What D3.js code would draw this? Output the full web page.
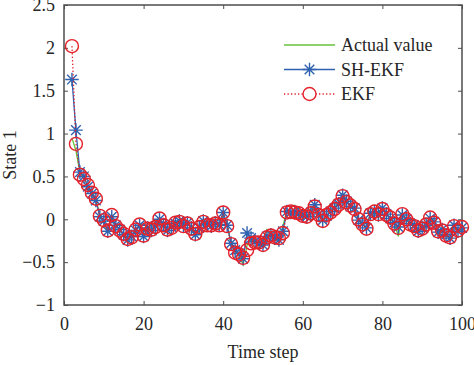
<!DOCTYPE html>
<html>
<head>
<meta charset="utf-8">
<script src="https://cdn.jsdelivr.net/npm/d3@7"></script>
<style>
  body { margin: 0; background: #fff; }
  svg text { font-family: "Liberation Serif", "Times New Roman", serif; fill: #262626; }
</style>
</head>
<body>
<div id="chart"></div>
<script>
// time steps shown on the x axis
const steps = d3.range(2, 101);

const actualValue = [
  0.95, 0.80, 0.55, 0.48, 0.39, 0.30, 0.23, 0.05, -0.03, -0.15,
  0.02, -0.08, -0.11, -0.19, -0.25, -0.19, -0.14, -0.06, -0.21, -0.09,
  -0.14, -0.07, -0.02, -0.05, -0.15, -0.08, -0.06, -0.01, -0.09, -0.03,
  -0.12, -0.20, -0.08, -0.03, -0.05, -0.09, -0.03, -0.07, 0.05, -0.05,
  -0.30, -0.38, -0.42, -0.53, -0.30, -0.24, -0.25, -0.29, -0.28, -0.12,
  -0.20, -0.23, -0.25, -0.08, 0.10, 0.07, 0.10, 0.05, 0.06, 0.02,
  0.09, 0.16, 0.07, -0.02, 0.03, 0.10, 0.14, 0.19, 0.26, 0.22,
  0.14, 0.14, -0.02, -0.04, -0.12, 0.08, 0.08, 0.04, 0.14, 0.07,
  0.00, -0.05, -0.20, 0.04, 0.01, -0.04, -0.08, -0.15, -0.09, -0.08,
  0.02, -0.02, -0.16, -0.11, -0.19, -0.23, -0.06, -0.15, -0.11
];

const shEkf = [
  1.63, 1.04, 0.55, 0.50, 0.38, 0.30, 0.22, 0.03, -0.02, -0.14,
  0.03, -0.07, -0.12, -0.18, -0.24, -0.20, -0.13, -0.07, -0.20, -0.10,
  -0.13, -0.08, 0.00, -0.06, -0.13, -0.09, -0.05, -0.02, -0.07, -0.04,
  -0.10, -0.18, -0.10, -0.02, -0.06, -0.08, -0.04, -0.06, 0.08, -0.07,
  -0.28, -0.36, -0.40, -0.46, -0.16, -0.22, -0.26, -0.28, -0.30, -0.20,
  -0.18, -0.22, -0.24, -0.14, 0.09, 0.08, 0.09, 0.06, 0.05, 0.03,
  0.08, 0.17, 0.06, -0.01, 0.04, 0.09, 0.13, 0.18, 0.28, 0.21,
  0.15, 0.13, -0.01, -0.05, -0.10, 0.07, 0.09, 0.05, 0.13, 0.06,
  0.01, -0.04, -0.09, 0.05, 0.00, -0.05, -0.07, -0.14, -0.10, -0.07,
  0.01, -0.03, -0.15, -0.12, -0.18, -0.22, -0.07, -0.14, -0.10
];

const ekf = [
  2.02, 0.88, 0.52, 0.47, 0.40, 0.31, 0.24, 0.04, -0.01, -0.13,
  0.05, -0.08, -0.13, -0.17, -0.23, -0.21, -0.12, -0.06, -0.19, -0.11,
  -0.12, -0.09, 0.01, -0.07, -0.12, -0.10, -0.04, -0.03, -0.08, -0.05,
  -0.11, -0.17, -0.09, -0.03, -0.07, -0.07, -0.05, -0.07, 0.08, -0.08,
  -0.29, -0.39, -0.41, -0.45, -0.36, -0.28, -0.27, -0.27, -0.30, -0.21,
  -0.19, -0.21, -0.22, -0.16, 0.08, 0.09, 0.08, 0.07, 0.04, 0.03,
  0.07, 0.15, 0.05, -0.02, 0.05, 0.08, 0.12, 0.17, 0.27, 0.20,
  0.16, 0.12, 0.00, -0.06, -0.11, 0.06, 0.09, 0.06, 0.12, 0.05,
  0.02, -0.05, -0.10, 0.06, 0.00, -0.06, -0.08, -0.13, -0.11, -0.06,
  0.02, -0.04, -0.14, -0.13, -0.19, -0.21, -0.08, -0.13, -0.09
];

const xTicks = [0, 20, 40, 60, 80, 100];
const yTicks = [-1, -0.5, 0, 0.5, 1, 1.5, 2, 2.5];
const seriesNames = ["Actual value", "SH-EKF", "EKF"];

const colors = { actual: "#66c23a", sh: "#2f62b0", ekf: "#e3222b" };

var margin = {top: 5, right: 12, bottom: 60, left: 64},
    width = 474 - margin.left - margin.right,
    height = 365 - margin.top - margin.bottom;

var svg = d3.select("#chart").append("svg")
    .attr("width", 474)
    .attr("height", 365)
  .append("g")
    .attr("transform", "translate(" + margin.left + "," + margin.top + ")");

var x = d3.scaleLinear().domain([0, 100]).range([0, width]);
var y = d3.scaleLinear().domain([-1, 2.5]).range([height, 0]);

const fmt = d => d < 0 ? "\u2212" + Math.abs(d) : String(d);

// axes (ticks pointing inward, mirrored on top/right like MATLAB)
function styleAxis(g) {
  g.select(".domain").remove();
  g.selectAll(".tick line").attr("stroke", "#4d4d4d").attr("stroke-width", 1);
  g.selectAll(".tick text").attr("font-size", 18).attr("fill", "#262626");
}

svg.append("g")
    .attr("transform", "translate(0," + height + ")")
    .call(d3.axisBottom(x).tickValues(xTicks).tickSize(-4).tickPadding(12).tickFormat(fmt))
    .call(styleAxis);

svg.append("g")
    .call(d3.axisTop(x).tickValues(xTicks).tickSize(-4).tickFormat(""))
    .call(styleAxis);

svg.append("g")
    .call(d3.axisLeft(y).tickValues(yTicks).tickSize(-4).tickPadding(9).tickFormat(fmt))
    .call(styleAxis);

svg.append("g")
    .attr("transform", "translate(" + width + ",0)")
    .call(d3.axisRight(y).tickValues(yTicks).tickSize(-4).tickFormat(""))
    .call(styleAxis);

svg.append("rect")
    .attr("width", width)
    .attr("height", height)
    .attr("fill", "none")
    .attr("stroke", "#4d4d4d")
    .attr("stroke-width", 1.5);

// lines
var line = d3.line()
    .x(d => x(d[0]))
    .y(d => y(d[1]));

const actualPts = steps.map((s, i) => [s, actualValue[i]]);
const shPts = steps.map((s, i) => [s, shEkf[i]]);
const ekfPts = steps.map((s, i) => [s, ekf[i]]);

// MATLAB-style asterisk: plus and cross together
function asterisk(r) {
  const k = r * Math.SQRT1_2;
  return "M" + (-r) + ",0L" + r + ",0M0," + (-r) + "L0," + r +
         "M" + (-k) + "," + (-k) + "L" + k + "," + k +
         "M" + (-k) + "," + k + "L" + k + "," + (-k);
}

svg.append("path")
    .datum(actualPts)
    .attr("fill", "none")
    .attr("stroke", colors.actual)
    .attr("stroke-width", 1.3)
    .attr("d", line);

svg.append("path")
    .datum(shPts)
    .attr("fill", "none")
    .attr("stroke", colors.sh)
    .attr("stroke-width", 1.3)
    .attr("d", line);

svg.selectAll(".star")
    .data(shPts)
    .enter().append("path")
    .attr("class", "star")
    .attr("transform", d => "translate(" + x(d[0]) + "," + y(d[1]) + ")")
    .attr("d", asterisk(6.8))
    .attr("fill", "none")
    .attr("stroke", colors.sh)
    .attr("stroke-width", 1.4);

svg.append("path")
    .datum(ekfPts)
    .attr("fill", "none")
    .attr("stroke", colors.ekf)
    .attr("stroke-width", 1.3)
    .attr("stroke-dasharray", "1.3,2.2")
    .attr("d", line);

svg.selectAll(".ring")
    .data(ekfPts)
    .enter().append("circle")
    .attr("class", "ring")
    .attr("cx", d => x(d[0]))
    .attr("cy", d => y(d[1]))
    .attr("r", 6.5)
    .attr("fill", "none")
    .attr("stroke", colors.ekf)
    .attr("stroke-width", 1.4);

// legend (no box)
var legend = svg.append("g").attr("transform", "translate(" + (284 - margin.left) + "," + (45 - margin.top) + ")");
var rowH = 24.5;

seriesNames.forEach(function(name, i) {
  var g = legend.append("g").attr("transform", "translate(0," + (i * rowH) + ")");
  var ln = g.append("line")
      .attr("x1", 0).attr("x2", 51)
      .attr("y1", 0).attr("y2", 0)
      .attr("stroke-width", 1.3);
  if (i === 0) ln.attr("stroke", colors.actual);
  if (i === 1) {
    ln.attr("stroke", colors.sh);
    g.append("path").attr("transform", "translate(25.5,0)").attr("d", asterisk(6.8))
      .attr("fill", "none").attr("stroke", colors.sh).attr("stroke-width", 1.4);
  }
  if (i === 2) {
    ln.attr("stroke", colors.ekf).attr("stroke-dasharray", "1.3,2.2");
    g.append("circle").attr("cx", 25.5).attr("cy", 0).attr("r", 6.5)
      .attr("fill", "#fff").attr("stroke", colors.ekf).attr("stroke-width", 1.4);
  }
  g.append("text")
      .attr("x", 57)
      .attr("y", 6)
      .attr("font-size", 18)
      .text(name);
});

// axis titles
svg.append("text")
    .attr("x", width / 2)
    .attr("y", height + 53)
    .attr("text-anchor", "middle")
    .attr("font-size", 18)
    .text("Time step");

svg.append("text")
    .attr("transform", "translate(" + (-margin.left + 16) + "," + (height / 2) + ") rotate(-90)")
    .attr("text-anchor", "middle")
    .attr("font-size", 18)
    .text("State 1");
</script>
</body>
</html>
